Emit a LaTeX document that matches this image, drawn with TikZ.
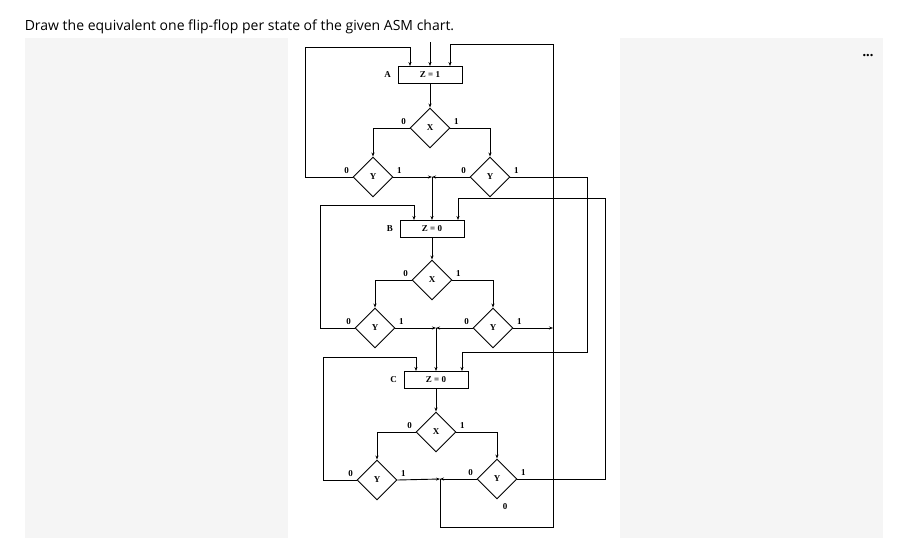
\documentclass[tikz,border=0pt]{standalone}
\usepackage{fontspec}
\setmainfont{Liberation Serif}
\newfontfamily\titlefont{Open Sans}
\usetikzlibrary{shapes.geometric,arrows.meta}

\begin{document}
\begin{tikzpicture}[x=1pt,y=-1pt, line width=0.9pt, >={Stealth[length=4pt]},
  state/.style = {draw, minimum width=64pt, minimum height=17pt, inner sep=0pt, font=\bfseries\fontsize{9}{10}\selectfont},
  cond/.style = {draw, diamond, minimum size=40pt, inner sep=0pt, font=\bfseries\fontsize{9}{10}\selectfont},
  lbl/.style = {font=\bfseries\fontsize{9}{10}\selectfont}]
\useasboundingbox (0,0) rectangle (906,550);
\fill[gray!8] (25,38) rectangle (288,538);
\fill[gray!8] (620,38) rectangle (883,538);
\node[anchor=west, font=\titlefont\fontsize{14}{16}\selectfont] (title) at (21,27) {Draw the equivalent one flip-flop per state of the given ASM chart.};
\node[font=\bfseries\Large] (dots) at (868,56) {...};
% state A
\node[state] (A) at (430,75) {Z = 1};
\node[lbl, left=3pt] (la) at (A.west) {A};
\node[cond] (XA) at (430,128) {X};
\node[cond] (YAl) at (373,177) {Y};
\node[cond] (YAr) at (490,177) {Y};
\coordinate (mA) at (432,177);
% state B
\node[state] (B) at (432,229) {Z = 0};
\node[lbl, left=3pt] (lb) at (B.west) {B};
\node[cond] (XB) at (432,280) {X};
\node[cond] (YBl) at (375,328) {Y};
\node[cond] (YBr) at (493,328) {Y};
\coordinate (mB) at (436,328);
% state C
\node[state] (C) at (436,380) {Z = 0};
\node[lbl, left=3pt] (lc) at (C.west) {C};
\node[cond] (XC) at (436,432) {X};
\node[cond] (YCl) at (377,480) {Y};
\node[cond] (YCr) at (497,479) {Y};
\coordinate (mC) at (440,479);
% branch labels
\foreach \d in {XA,YAl,YAr,XB,YBl,YBr,XC,YCl,YCr} {
  \node[lbl, above left=0pt] at (\d.west) {0};
  \node[lbl, above right=0pt] at (\d.east) {1};
}
\node[lbl] (z0) at (505,507) {0};
% A
\coordinate (in) at (430,42);
\draw[->] (in) -- (A.north);
\draw[->] (A) -- (XA);
\draw[->] (XA.west) -| (YAl.north);
\draw[->] (XA.east) -| (YAr.north);
\draw[->] (YAl.west) -| (305,47) -| ([xshift=-20pt]A.north);
\draw[->] (YAl.east) -- (mA);
\draw[->] (YAr.west) -- (mA);
\draw[->] (mA) -- (B.north);
\draw[->] (YAr.east) -| (587,352) -| ([xshift=26pt]C.north);
% B
\draw[->] (B) -- (XB);
\draw[->] (XB.west) -| (YBl.north);
\draw[->] (XB.east) -| (YBr.north);
\draw[->] (YBl.west) -| (320,205) -| ([xshift=-18pt]B.north);
\draw[->] (YBl.east) -- (mB);
\draw[->] (YBr.west) -- (mB);
\draw[->] (mB) -- (C.north);
\draw[->] (YBr.east) -- (553,328);
% C
\draw[->] (C) -- (XC);
\draw[->] (XC.west) -| (YCl.north);
\draw[->] (XC.east) -| (YCr.north);
\draw[->] (YCl.west) -| (323,357) -| ([xshift=-20pt]C.north);
\draw[->] (YCl.east) -- (mC);
\draw[->] (YCr.west) -- (mC);
\draw[->] (YCr.east) -| (605,198) -| ([xshift=26pt]B.north);
\draw[->] (mC) -- (440,527) -| (553,44) -| ([xshift=20pt]A.north);
\end{tikzpicture}
\end{document}
